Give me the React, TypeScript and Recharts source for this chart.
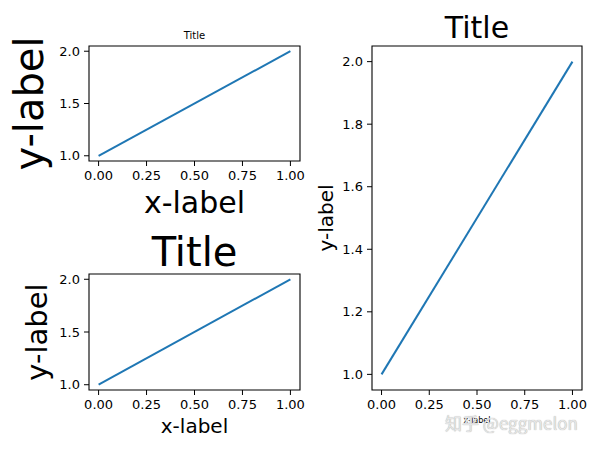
import React from 'react';
import { LineChart, Line, XAxis, YAxis, ReferenceArea } from 'recharts';

// same straight line in every panel
const xValues = [0, 1];
const yValues = [1, 2];

const xTicks = [0, 0.25, 0.5, 0.75, 1];
const yTicksSmall = [1, 1.5, 2];
const yTicksTall = [1, 1.2, 1.4, 1.6, 1.8, 2];

const xDomain: [number, number] = [-0.05, 1.05];
const yDomain: [number, number] = [0.95, 2.05];

const data = xValues.map((x, i) => ({ x, y: yValues[i] }));

const FONT = 'DejaVu Sans';
const tickStyle = { fill: '#000', fontSize: 13, fontFamily: FONT };

interface PanelProps {
  left: number;
  top: number;
  width: number;
  height: number;
  margin: { top: number; right: number; left: number; bottom: number };
  yWidth: number;
  xHeight: number;
  yTicks: number[];
  title: { size: number; offset: number };
  xLabel: { size: number; offset: number };
  yLabel: { size: number; offset: number };
}

function Panel(p: PanelProps) {
  return (
    <div style={{ position: 'absolute', left: p.left, top: p.top }}>
      <LineChart width={p.width} height={p.height} data={data} margin={p.margin}>
        <XAxis
          type="number"
          dataKey="x"
          domain={xDomain}
          ticks={xTicks}
          tickFormatter={(v: number) => v.toFixed(2)}
          height={p.xHeight}
          axisLine={false}
          stroke="#000"
          tickSize={5}
          tickMargin={5}
          tick={tickStyle}
          label={{
            value: 'x-label',
            position: 'insideBottom',
            offset: p.xLabel.offset,
            fill: '#000',
            fontSize: p.xLabel.size,
            fontFamily: FONT,
          }}
        />
        <YAxis
          type="number"
          domain={yDomain}
          ticks={p.yTicks}
          tickFormatter={(v: number) => v.toFixed(1)}
          width={p.yWidth}
          axisLine={false}
          stroke="#000"
          tickSize={5}
          tickMargin={4}
          tick={tickStyle}
          label={{
            value: 'y-label',
            angle: -90,
            position: 'insideLeft',
            offset: p.yLabel.offset,
            fill: '#000',
            fontSize: p.yLabel.size,
            fontFamily: FONT,
            style: { textAnchor: 'middle' },
          }}
        />
        {/* the axes frame, plus the title above it */}
        <ReferenceArea
          x1={xDomain[0]}
          x2={xDomain[1]}
          y1={yDomain[0]}
          y2={yDomain[1]}
          fill="none"
          fillOpacity={0}
          stroke="#000"
          strokeWidth={1.1}
          ifOverflow="visible"
          label={{
            value: 'Title',
            position: 'top',
            offset: p.title.offset,
            fill: '#000',
            fontSize: p.title.size,
            fontFamily: FONT,
          }}
        />
        <Line
          type="linear"
          dataKey="y"
          stroke="#1f77b4"
          strokeWidth={2}
          dot={false}
          isAnimationActive={false}
        />
      </LineChart>
    </div>
  );
}

export default function App() {
  return (
    <div style={{ position: 'absolute', left: 0, top: 0, width: 600, height: 450, background: '#fff', overflow: 'hidden' }}>
      <Panel
        left={0} top={0} width={310} height={225}
        margin={{ top: 46, right: 10, left: 0, bottom: 0 }}
        yWidth={89} xHeight={64} yTicks={yTicksSmall}
        title={{ size: 10, offset: 7.5 }}
        xLabel={{ size: 30, offset: 12 }}
        yLabel={{ size: 40, offset: 29 }}
      />
      <Panel
        left={0} top={225} width={310} height={225}
        margin={{ top: 49, right: 10, left: 0, bottom: 0 }}
        yWidth={89} xHeight={60} yTicks={yTicksSmall}
        title={{ size: 40, offset: 8 }}
        xLabel={{ size: 20, offset: 17 }}
        yLabel={{ size: 29, offset: 37 }}
      />
      <Panel
        left={310} top={0} width={290} height={450}
        margin={{ top: 46, right: 18, left: 0, bottom: 0 }}
        yWidth={62} xHeight={60} yTicks={yTicksTall}
        title={{ size: 30, offset: 8 }}
        xLabel={{ size: 8, offset: 27 }}
        yLabel={{ size: 20, offset: 16 }}
      />
      <div
        style={{
          position: 'absolute',
          left: 445,
          top: 410,
          fontFamily: '"Noto Sans CJK SC", "Noto Sans", sans-serif',
          fontSize: 17,
          color: '#e6e6e6',
          textShadow: '0 0 1px #9a9a9a',
          whiteSpace: 'nowrap',
          pointerEvents: 'none',
        }}
      >
        知乎 @eggmelon
      </div>
    </div>
  );
}
